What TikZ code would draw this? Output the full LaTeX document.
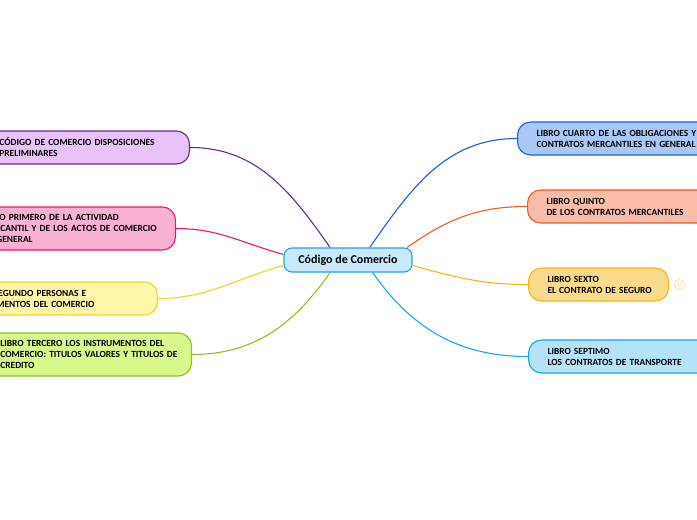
\documentclass[tikz,border=0pt]{standalone}
\usepackage{fontspec}
\setmainfont{Carlito}
\usetikzlibrary{positioning}
\usetikzlibrary{backgrounds}

\definecolor{moradoF}{HTML}{E9C3F8}
\definecolor{moradoL}{HTML}{6B2A8C}
\definecolor{rosaF}{HTML}{F9B1D3}
\definecolor{rosaL}{HTML}{E8167A}
\definecolor{amarF}{HTML}{FFF6AA}
\definecolor{amarL}{HTML}{F2D422}
\definecolor{verdeF}{HTML}{D8F88A}
\definecolor{verdeL}{HTML}{8DC021}
\definecolor{azulF}{HTML}{A9C8F8}
\definecolor{azulL}{HTML}{1B5FD0}
\definecolor{salmonF}{HTML}{F8BCA8}
\definecolor{salmonL}{HTML}{F05A28}
\definecolor{naranF}{HTML}{FCDA8C}
\definecolor{naranL}{HTML}{F8B21A}
\definecolor{celesteF}{HTML}{B5E3FA}
\definecolor{celesteL}{HTML}{1AA4EA}
\definecolor{raizF}{HTML}{C8E9FB}
\definecolor{raizL}{HTML}{2A9FDB}

\begin{document}
\begin{tikzpicture} [x=1pt, y=1pt,
        libro/.style={rectangle, rounded corners=13pt, line width=1.1pt,
            inner xsep=19pt, inner ysep=0pt, minimum height=33pt, align=left,
            font=\fontsize{9.4}{11}\selectfont\bfseries},
        raiz/.style={rectangle, rounded corners=8pt, line width=1.1pt,
            fill=raizF, draw=raizL, minimum width=128pt, minimum height=24pt,
            inner sep=0pt, font=\fontsize{12}{14}\selectfont\bfseries},
        rama/.style={line width=1.1pt} ]
    \useasboundingbox (0,0) rectangle (697,-520);
    \node[raiz] (c) at (348,-260) {Código de Comercio};
    % libros a la izquierda
    \node[libro, fill=moradoF, draw=moradoL, text width=171pt, anchor=east] (l1) at (190,-147.5)
        {\mbox{CÓDIGO DE COMERCIO DISPOSICIONES}\\\mbox{PRELIMINARES}};
    \node[libro, fill=rosaF, draw=rosaL, text width=174pt, minimum height=43pt, anchor=east] (l2) at (176,-228.5)
        {\mbox{LIBRO PRIMERO DE LA ACTIVIDAD}\\\mbox{MERCANTIL Y DE LOS ACTOS DE COMERCIO}\\\mbox{EN GENERAL}};
    \node[libro, fill=amarF, draw=amarL, text width=171pt, anchor=east] (l3) at (158,-298.5)
        {\mbox{LIBRO SEGUNDO PERSONAS E}\\\mbox{INSTRUMENTOS DEL COMERCIO}};
    \node[libro, fill=verdeF, draw=verdeL, text width=172pt, minimum height=43pt, anchor=east] (l4) at (192,-354.5)
        {\mbox{LIBRO TERCERO LOS INSTRUMENTOS DEL}\\\mbox{COMERCIO: TITULOS VALORES Y TITULOS DE}\\\mbox{CREDITO}};
    % libros a la derecha
    \node[libro, fill=azulF, draw=azulL, text width=200pt, anchor=west] (r1) at (517,-138.5)
        {\mbox{LIBRO CUARTO DE LAS OBLIGACIONES Y}\\\mbox{CONTRATOS MERCANTILES EN GENERAL}};
    \node[libro, fill=salmonF, draw=salmonL, text width=200pt, anchor=west] (r2) at (527,-206.5)
        {\mbox{LIBRO QUINTO}\\\mbox{DE LOS CONTRATOS MERCANTILES}};
    \node[libro, fill=naranF, draw=naranL, text width=102pt, anchor=west] (r3) at (528,-284.5)
        {\mbox{LIBRO SEXTO}\\\mbox{EL CONTRATO DE SEGURO}};
    \node[circle, draw=naranL!55, line width=0.6pt, inner sep=0pt, minimum size=10pt,
        text=naranL!75, font=\fontsize{5.5}{6}\selectfont, right=5pt of r3] (n37) {37};
    \node[libro, fill=celesteF, draw=celesteL, text width=200pt, anchor=west] (r4) at (528,-356.5)
        {\mbox{LIBRO SEPTIMO}\\\mbox{LOS CONTRATOS DE TRANSPORTE}};
    \begin{scope}[on background layer]
    \draw[rama, moradoL] (c.145) to[out=125, in=0] (l1.east);
    \draw[rama, rosaL] (c.175) to[out=165, in=0] (l2.east);
    \draw[rama, amarL] (c.185) to[out=195, in=0] (l3.east);
    \draw[rama, verdeL] (c.215) to[out=235, in=0] (l4.east);
    \draw[rama, azulL] (c.30) to[out=55, in=180] (r1.west);
    \draw[rama, salmonL] (c.12) to[out=35, in=180] (r2.west);
    \draw[rama, naranL] (c.355) to[out=-15, in=180] (r3.west);
    \draw[rama, celesteL] (c.333) to[out=-55, in=180] (r4.west);
    \end{scope}
\end{tikzpicture}
\end{document}
